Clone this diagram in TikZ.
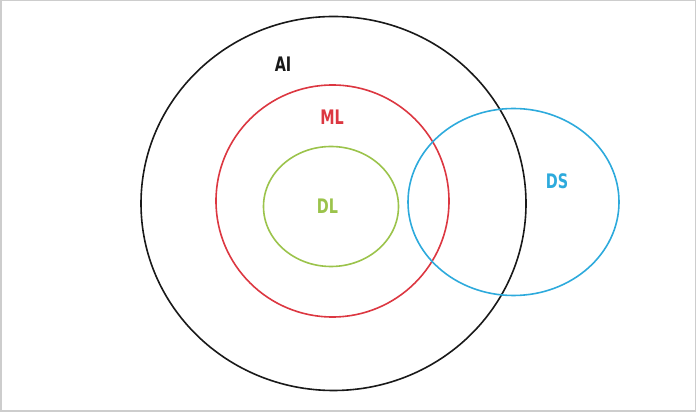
\documentclass[tikz,border=0pt]{standalone}
\usepackage{fontspec}
\setmainfont{DejaVu Sans Condensed}
\usetikzlibrary{shapes.geometric}

\definecolor{aiblack}{RGB}{25,25,25}
\definecolor{mlred}{RGB}{220,55,65}
\definecolor{dlgreen}{RGB}{155,195,75}
\definecolor{dsblue}{RGB}{45,170,220}
\definecolor{framegray}{RGB}{205,205,205}

\tikzset{
	set/.style={ellipse, draw, line width=1.6pt, inner sep=0pt},
	setlabel/.style={font=\fontsize{20}{20}\selectfont\bfseries, inner sep=0pt, xscale=0.8}
}

\begin{document}
\begin{tikzpicture}[x=1pt,y=1pt]
	  \draw[framegray, line width=1.5pt] (0.75,0.75) rectangle (695.25,411.25);   % outer frame
	  \useasboundingbox (0,0) rectangle (696,412);

	  % the four sets
	  \node[set, color=aiblack, minimum width=385pt, minimum height=374pt] (ai) at (333.5,208.5) {};
	  \node[set, color=mlred, minimum width=233pt, minimum height=232pt] (ml) at (332.5,211) {};
	  \node[set, color=dlgreen, minimum width=135pt, minimum height=120pt] (dl) at (331,205.5) {};
	  \node[set, color=dsblue, minimum width=211pt, minimum height=187pt] (ds) at (513.5,210) {};

	  % labels
	  \node[setlabel, color=aiblack] (ailabel) at (283,348) {AI};
	  \node[setlabel, color=mlred] (mllabel) at (332,295) {ML};
	  \node[setlabel, color=dlgreen] (dllabel) at (327.5,206) {DL};
	  \node[setlabel, color=dsblue] (dslabel) at (557,231) {DS};
	
	\end{tikzpicture}
\end{document}
